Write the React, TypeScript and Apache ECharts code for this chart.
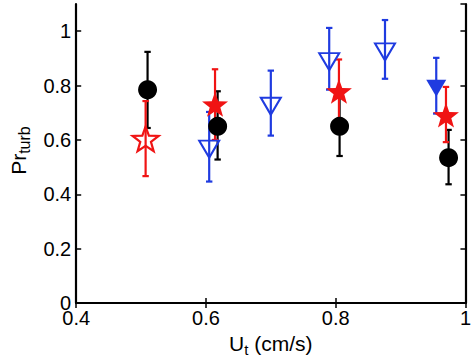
import React, { useEffect, useRef } from "react";
import * as echarts from "echarts";

// x ticks / y ticks
const xTicks = [0.4, 0.6, 0.8, 1.0];
const yTicks = [0, 0.2, 0.4, 0.6, 0.8, 1.0];

// Black circles
const blackX = [0.51, 0.618, 0.806, 0.974];
const blackY = [0.785, 0.65, 0.65, 0.535];
const blackLo = [0.644, 0.528, 0.541, 0.437];
const blackHi = [0.924, 0.779, 0.76, 0.637];

// Red stars (first is hollow)
const redX = [0.507, 0.614, 0.805, 0.97];
const redY = [0.604, 0.731, 0.779, 0.691];
const redLo = [0.467, 0.6, 0.673, 0.592];
const redHi = [0.743, 0.86, 0.896, 0.795];
const redFilled = [false, true, true, true];

// Blue down-triangles (last is filled)
const blueX = [0.605, 0.7, 0.79, 0.876, 0.955];
const blueY = [0.566, 0.724, 0.888, 0.924, 0.79];
const blueLo = [0.447, 0.616, 0.785, 0.825, 0.697];
const blueHi = [0.703, 0.855, 1.012, 1.041, 0.902];
const blueFilled = [false, false, false, false, true];

const BLACK = "#000000";
const RED = "#f01414";
const BLUE = "#1f3be0";
const FONT = "Liberation Sans";

const STAR =
  "path://M0,-10L2.4,-3.3L9.511,-3.09L3.9,1.27L5.878,8.09L0,4.1L-5.878,8.09L-3.9,1.27L-9.511,-3.09L-2.4,-3.3Z";

function errSeries(xs: number[], lo: number[], hi: number[], color: string) {
  return {
    type: "custom",
    xAxisIndex: 0,
    yAxisIndex: 0,
    data: xs.map((x, i) => [x, lo[i], hi[i]]),
    encode: { x: 0, y: [1, 2] },
    renderItem: (params: any, api: any) => {
      const x = api.value(0);
      const pLo = api.coord([x, api.value(1)]);
      const pHi = api.coord([x, api.value(2)]);
      const cap = 3.2;
      const style = { stroke: color, lineWidth: 2.2 };
      return {
        type: "group",
        children: [
          { type: "line", shape: { x1: pLo[0], y1: pLo[1], x2: pHi[0], y2: pHi[1] }, style },
          { type: "line", shape: { x1: pLo[0] - cap, y1: pLo[1], x2: pLo[0] + cap, y2: pLo[1] }, style },
          { type: "line", shape: { x1: pHi[0] - cap, y1: pHi[1], x2: pHi[0] + cap, y2: pHi[1] }, style },
        ],
      };
    },
    z: 2,
  };
}

export default function App() {
  const ref = useRef<HTMLDivElement>(null);
  useEffect(() => {
    if (!ref.current) return;
    const chart = echarts.init(ref.current, undefined, { renderer: "svg" });
    const fmt = (v: number) => String(Math.round(v * 10) / 10);
    const axisLine = { show: true, lineStyle: { color: "#000", width: 2.2 } };
    const axisTick = { show: true, inside: true, length: 5, lineStyle: { color: "#000", width: 1.5 } };
    const label = { color: "#000", fontSize: 20, fontFamily: FONT };
    chart.setOption({
      animation: false,
      backgroundColor: "#ffffff",
      grid: { left: 72, right: 8, top: 4, bottom: 55.5, containLabel: false },
      xAxis: [
        {
          type: "value",
          min: xTicks[0],
          max: xTicks[xTicks.length - 1],
          interval: 0.2,
          position: "bottom",
          axisLine,
          axisTick,
          splitLine: { show: false },
          axisLabel: { ...label, margin: 5, formatter: fmt },
          name: "{a|U}{b|t}{a| (cm/s)}",
          nameLocation: "middle",
          nameGap: 20,
          nameTextStyle: {
            rich: {
              a: { fontSize: 21, fontFamily: FONT, color: "#000" },
              b: { fontSize: 15, fontFamily: FONT, color: "#000", padding: [12, 0, 0, 0] },
            },
          },
        },
        {
          type: "value",
          min: xTicks[0],
          max: xTicks[xTicks.length - 1],
          interval: 0.2,
          position: "top",
          axisLine,
          axisTick,
          splitLine: { show: false },
          axisLabel: { show: false },
        },
      ],
      yAxis: [
        {
          type: "value",
          min: yTicks[0],
          max: 1.1,
          interval: 0.2,
          position: "left",
          axisLine,
          axisTick,
          splitLine: { show: false },
          axisLabel: { ...label, margin: 5, formatter: fmt, showMaxLabel: false },
          name: "{a|Pr}{b|turb}",
          nameLocation: "middle",
          nameRotate: 90,
          nameGap: 43,
          nameTextStyle: {
            padding: [0, 0, 0, 6],
            rich: {
              a: { fontSize: 21, fontFamily: FONT, color: "#000" },
              b: { fontSize: 16, fontFamily: FONT, color: "#000", padding: [12, 0, 0, 0] },
            },
          },
        },
        {
          type: "value",
          min: yTicks[0],
          max: 1.1,
          interval: 0.2,
          position: "right",
          axisLine,
          axisTick,
          splitLine: { show: false },
          axisLabel: { show: false },
        },
      ],
      series: [
        errSeries(blackX, blackLo, blackHi, BLACK),
        {
          type: "scatter",
          xAxisIndex: 0,
          yAxisIndex: 0,
          symbol: "circle",
          symbolSize: 19,
          itemStyle: { color: BLACK, opacity: 1 },
          data: blackX.map((x, i) => [x, blackY[i]]),
          z: 3,
        },
        errSeries(redX, redLo, redHi, RED),
        {
          type: "scatter",
          xAxisIndex: 0,
          yAxisIndex: 0,
          symbol: STAR,
          symbolKeepAspect: true,
          symbolSize: 26,
          data: redX.map((x, i) => ({
            value: [x, redY[i]],
            itemStyle: redFilled[i]
              ? { color: RED, opacity: 1 }
              : { color: "transparent", borderColor: RED, borderWidth: 2.2, opacity: 1 },
          })),
          z: 3,
        },
        errSeries(blueX, blueLo, blueHi, BLUE),
        {
          type: "scatter",
          xAxisIndex: 0,
          yAxisIndex: 0,
          symbol: "triangle",
          symbolRotate: 180,
          symbolSize: [20, 17],
          data: blueX.map((x, i) => ({
            value: [x, blueY[i]],
            itemStyle: blueFilled[i]
              ? { color: BLUE, opacity: 1 }
              : { color: "transparent", borderColor: BLUE, borderWidth: 2, opacity: 1 },
          })),
          z: 3,
        },
      ],
    });
    return () => chart.dispose();
  }, []);
  return <div ref={ref} style={{ width: 474, height: 362, position: "absolute", left: 0, top: 0 }} />;
}
